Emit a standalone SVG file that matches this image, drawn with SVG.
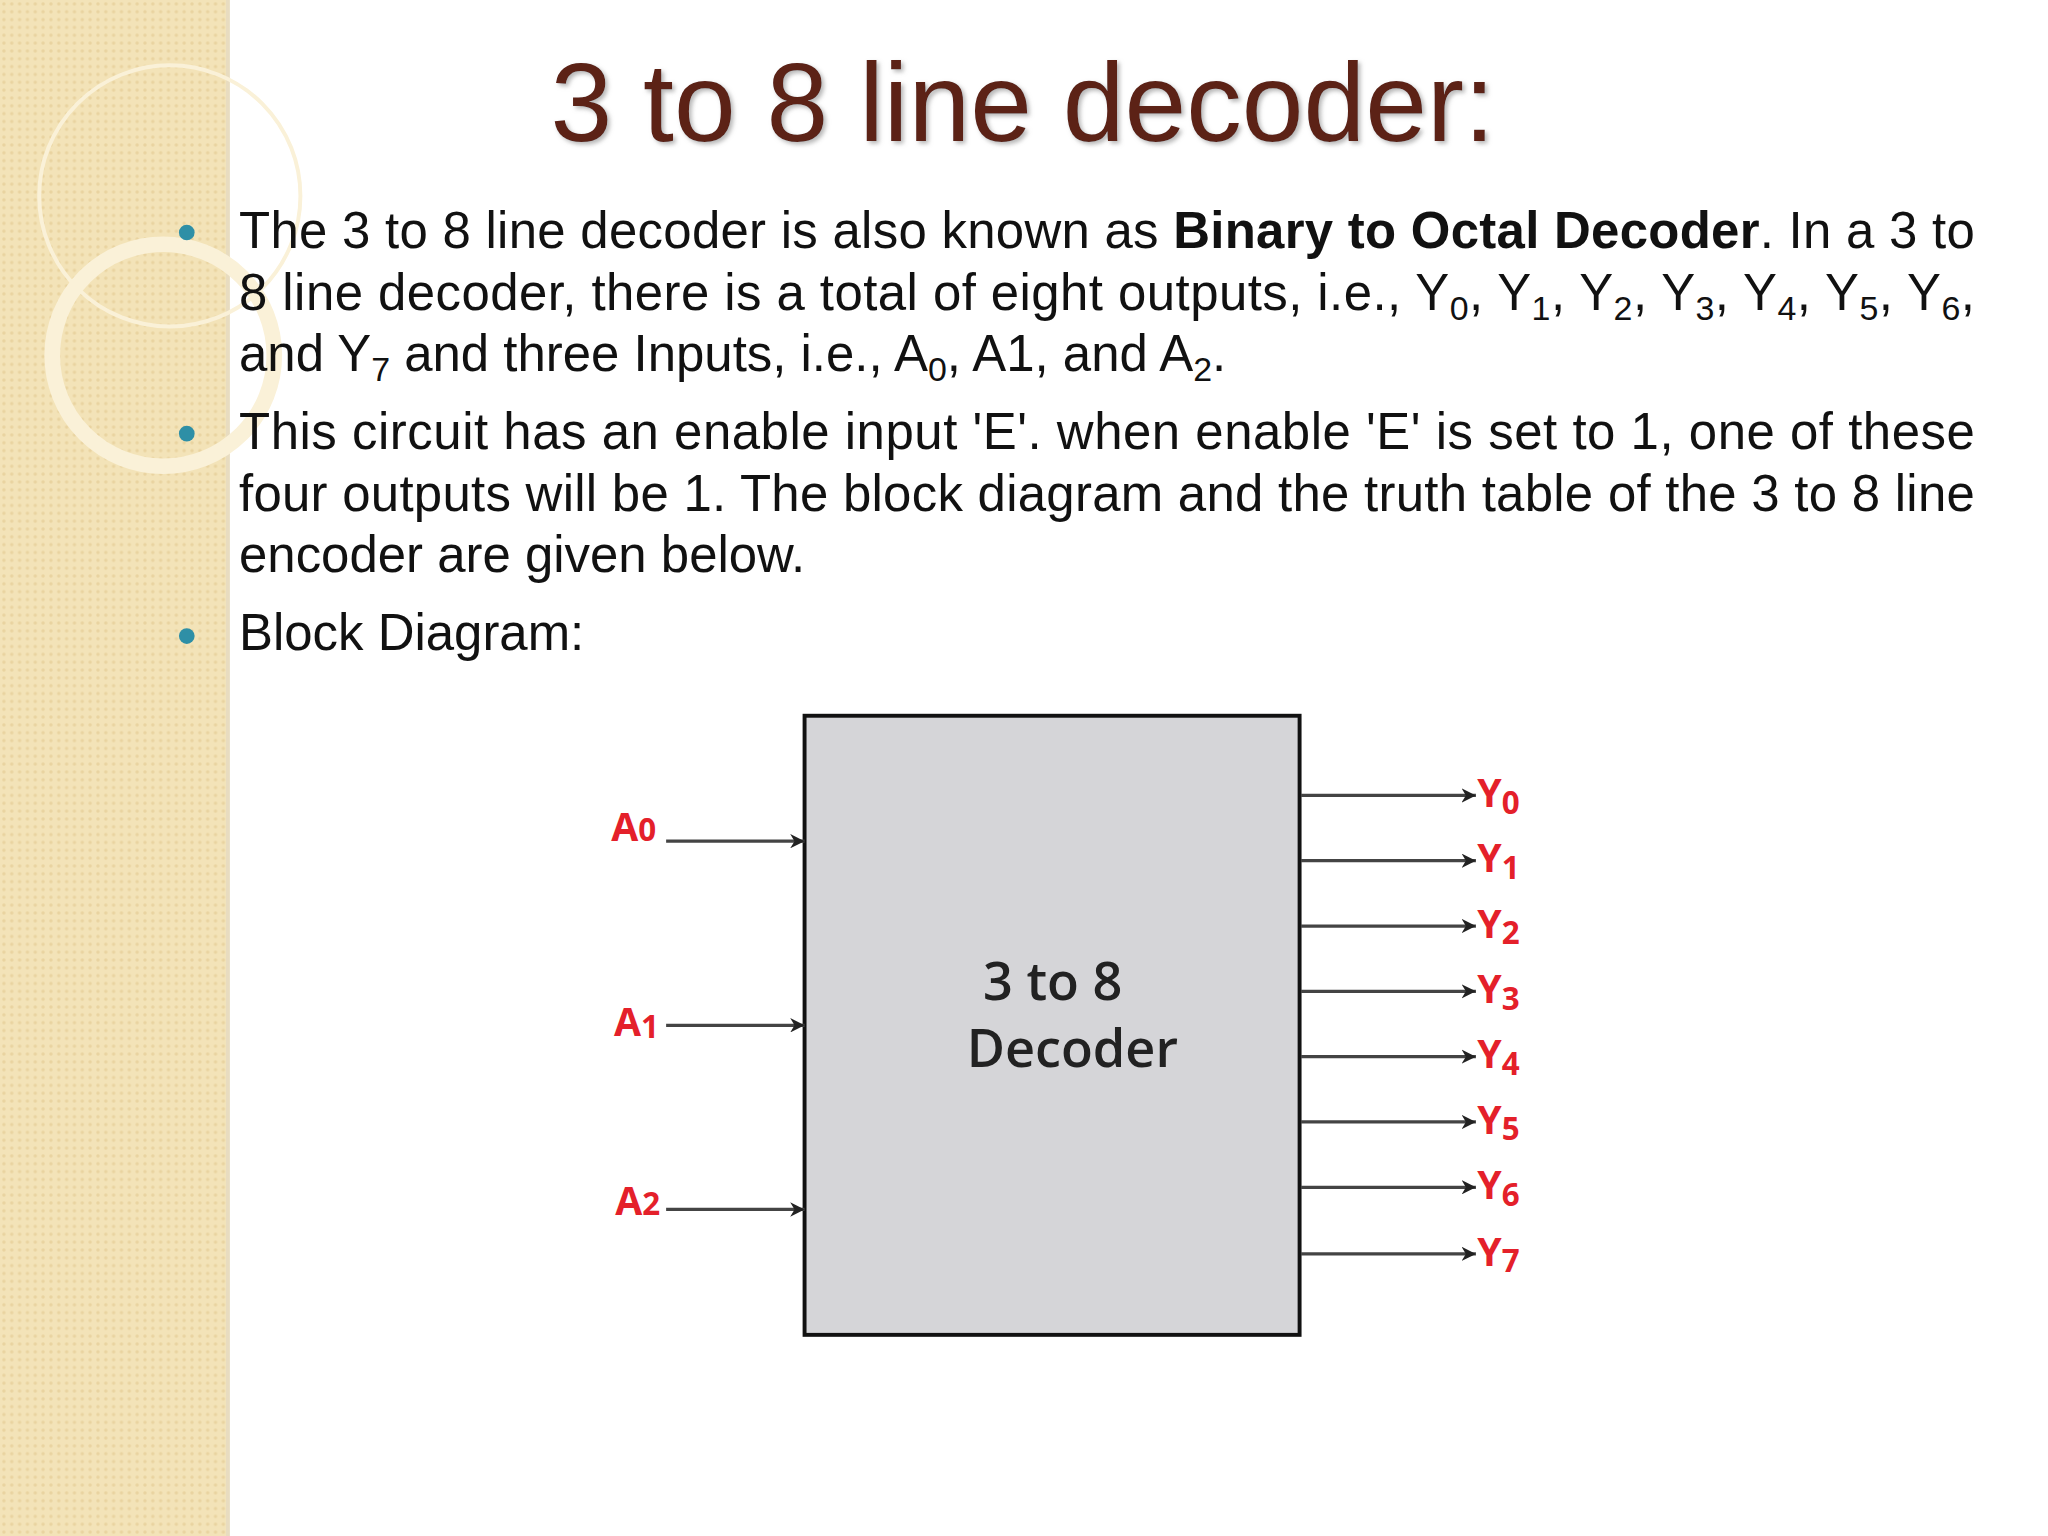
<svg xmlns="http://www.w3.org/2000/svg" width="2048" height="1536" viewBox="0 0 2048 1536">
<defs>
<pattern id="dots" width="6" height="6" patternUnits="userSpaceOnUse"><rect width="6" height="6" fill="#f3e3b8"/><circle cx="3" cy="3" r="1.3" fill="#e9d3a0"/></pattern>
<marker id="ar" viewBox="0 0 10 10" refX="10" refY="5" markerWidth="11" markerHeight="11" markerUnits="userSpaceOnUse" orient="auto"><path d="M0,0 L10,5 L0,10 L3,5 z" fill="#222"/></marker>
<filter id="sh"><feDropShadow dx="2" dy="2" stdDeviation="1.5" flood-color="#999" flood-opacity="0.7"/></filter>
</defs>
<style>
.b{font-family:"Liberation Sans",Arial,sans-serif;font-size:39px;fill:#111}
.lbl{font-family:"Open Sans","Noto Sans",sans-serif;font-size:30px;font-weight:bold;fill:#e4202a}
.ln{stroke:#444;stroke-width:2.5;fill:none;marker-end:url(#ar)}
.dot{fill:#2e8fa6}
</style>
<rect width="2048" height="1536" fill="#fff"/>
<g transform="scale(1.306122)">
<rect x="0" y="0" width="173" height="1176" fill="url(#dots)"/>
<rect x="173" y="0" width="3" height="1176" fill="#e8dcc0"/>
<circle cx="130" cy="150" r="100" fill="none" stroke="#faf1d8" stroke-width="3"/>
<circle cx="125" cy="272" r="85" fill="none" stroke="#faf1d8" stroke-width="12"/>
<text x="783" y="108" text-anchor="middle" font-family="Liberation Sans,Arial,sans-serif" font-size="85" fill="#5b2116" filter="url(#sh)">3 to 8 line decoder:</text>
<circle class="dot" cx="143" cy="178" r="6"/><circle class="dot" cx="143" cy="332" r="6"/><circle class="dot" cx="143" cy="487" r="6"/>
<text class="b" x="183" y="190" textLength="1329" lengthAdjust="spacing">The 3 to 8 line decoder is also known as <tspan font-weight="bold">Binary to Octal Decoder</tspan>. In a 3 to</text>
<text class="b" x="183" y="237" textLength="1329" lengthAdjust="spacing">8 line decoder, there is a total of eight outputs, i.e., Y<tspan font-size="26" dy="8">0</tspan><tspan dy="-8">, Y</tspan><tspan font-size="26" dy="8">1</tspan><tspan dy="-8">, Y</tspan><tspan font-size="26" dy="8">2</tspan><tspan dy="-8">, Y</tspan><tspan font-size="26" dy="8">3</tspan><tspan dy="-8">, Y</tspan><tspan font-size="26" dy="8">4</tspan><tspan dy="-8">, Y</tspan><tspan font-size="26" dy="8">5</tspan><tspan dy="-8">, Y</tspan><tspan font-size="26" dy="8">6</tspan><tspan dy="-8">,</tspan></text>
<text class="b" x="183" y="284">and Y<tspan font-size="26" dy="8">7</tspan><tspan dy="-8"> and three Inputs, i.e., A</tspan><tspan font-size="26" dy="8">0</tspan><tspan dy="-8">, A1, and A</tspan><tspan font-size="26" dy="8">2</tspan><tspan dy="-8">.</tspan></text>
<text class="b" x="183" y="344" textLength="1329" lengthAdjust="spacing">This circuit has an enable input 'E'. when enable 'E' is set to 1, one of these</text>
<text class="b" x="183" y="391" textLength="1329" lengthAdjust="spacing">four outputs will be 1. The block diagram and the truth table of the 3 to 8 line</text>
<text class="b" x="183" y="438">encoder are given below.</text>
<text class="b" x="183" y="498">Block Diagram:</text>
<g id="decoder">
<rect x="616" y="548" width="379" height="474" fill="#d5d5d8" stroke="#111" stroke-width="3"/>
<text x="806" y="766" text-anchor="middle" font-family="Open Sans,Noto Sans,sans-serif" font-size="40" font-weight="600" fill="#222">3 to 8</text>
<text x="821" y="817" text-anchor="middle" font-family="Open Sans,Noto Sans,sans-serif" font-size="40" font-weight="600" fill="#222">Decoder</text>
</g>
<g id="inputs">
<text class="lbl" x="468" y="644">A<tspan font-size="24">0</tspan></text>
<text class="lbl" x="470" y="793">A<tspan font-size="24" dy="2">1</tspan></text>
<text class="lbl" x="471" y="930">A<tspan font-size="24">2</tspan></text>
</g>
<g id="outputs">
<text class="lbl" x="1131" y="618">Y<tspan font-size="24" dy="5">0</tspan></text>
<text class="lbl" x="1131" y="668">Y<tspan font-size="24" dy="5">1</tspan></text>
<text class="lbl" x="1131" y="718">Y<tspan font-size="24" dy="5">2</tspan></text>
<text class="lbl" x="1131" y="768">Y<tspan font-size="24" dy="5">3</tspan></text>
<text class="lbl" x="1131" y="818">Y<tspan font-size="24" dy="5">4</tspan></text>
<text class="lbl" x="1131" y="868">Y<tspan font-size="24" dy="5">5</tspan></text>
<text class="lbl" x="1131" y="918">Y<tspan font-size="24" dy="5">6</tspan></text>
<text class="lbl" x="1131" y="969">Y<tspan font-size="24" dy="5">7</tspan></text>
</g>
<g id="connectors">
<path class="ln" d="M510,644 H616"/><path class="ln" d="M510,785 H616"/><path class="ln" d="M510,926 H616"/>
<path class="ln" d="M996,609 H1130"/><path class="ln" d="M996,659 H1130"/><path class="ln" d="M996,709 H1130"/><path class="ln" d="M996,759 H1130"/>
<path class="ln" d="M996,809 H1130"/><path class="ln" d="M996,859 H1130"/><path class="ln" d="M996,909 H1130"/><path class="ln" d="M996,960 H1130"/>
</g>
</g>
</svg>
